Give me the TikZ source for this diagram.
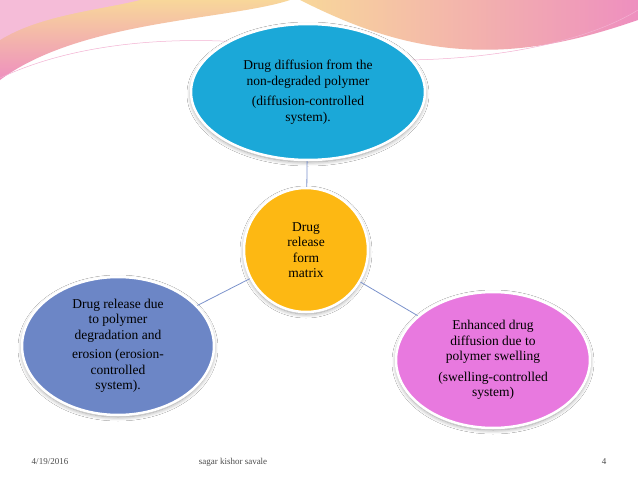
\documentclass[tikz,border=0pt]{standalone}
\usepackage{fontspec}
\setmainfont{Liberation Serif}
\usetikzlibrary{shapes.geometric,shadows.blur}
\definecolor{cy}{HTML}{1BA8D8}
\definecolor{og}{HTML}{FDB813}
\definecolor{bl}{HTML}{6C86C6}
\definecolor{mg}{HTML}{E879DF}
\definecolor{pk}{HTML}{EE8FBF}
\definecolor{pe}{HTML}{F8D79A}
\tikzset{
 bub/.style={ellipse,draw=white,line width=2.5pt,blur shadow={shadow blur steps=8,shadow xshift=0pt,shadow yshift=-2pt,shadow blur radius=4pt},align=center,font=\fontsize{13.5}{15.5}\selectfont,inner sep=0pt},
 link/.style={draw=bl!90,line width=0.8pt},
 foot/.style={font=\fontsize{9}{10}\selectfont,text=black!70}
}
\begin{document}
\begin{tikzpicture}[x=1pt,y=-1pt]
\useasboundingbox (0,0) rectangle (638,479);
\fill[white] (0,0) rectangle (638,479);
% background waves
\shade[left color=pe,right color=pk,shading angle=0] (0,0) -- (290,0) .. controls (230,20) and (80,20) .. (0,80) -- cycle;
\fill[pk!60] (0,0) -- (140,0) .. controls (100,10) and (40,15) .. (0,40) -- cycle;
\shade[left color=pe,right color=pk] (300,0) -- (638,0) -- (638,20) .. controls (580,40) and (520,55) .. (450,48) .. controls (390,42) and (340,20) .. (300,0) -- cycle;
\draw[pk!70,line width=0.5pt] (0,78) .. controls (80,40) and (180,38) .. (240,42);
\draw[pk!70,line width=0.5pt] (400,60) .. controls (500,60) and (590,40) .. (638,10);
\node[bub,fill=og,minimum width=124,minimum height=124] (c) at (306,250) {Drug\\release\\form\\matrix};
\node[bub,fill=cy,minimum width=234,minimum height=136] (t) at (308,92) {Drug diffusion from the\\non-degraded polymer\\[5pt](diffusion-controlled\\system).};
\node[bub,fill=bl,minimum width=192,minimum height=138] (l) at (118,346) {Drug release due\\to polymer\\degradation and\\[4pt]erosion (erosion-\\controlled\\system).};
\node[bub,fill=mg,minimum width=194,minimum height=136] (r) at (493,360) {Enhanced drug\\diffusion due to\\polymer swelling\\[5pt](swelling-controlled\\system)};
\draw[link] (c) -- (t);
\draw[link] (c) -- (l);
\draw[link] (c) -- (r);
\node[foot] (d) at (50,462) {4/19/2016};
\node[foot] (a) at (233,462) {sagar kishor savale};
\node[foot] (p) at (604,462) {4};
\end{tikzpicture}
\end{document}
